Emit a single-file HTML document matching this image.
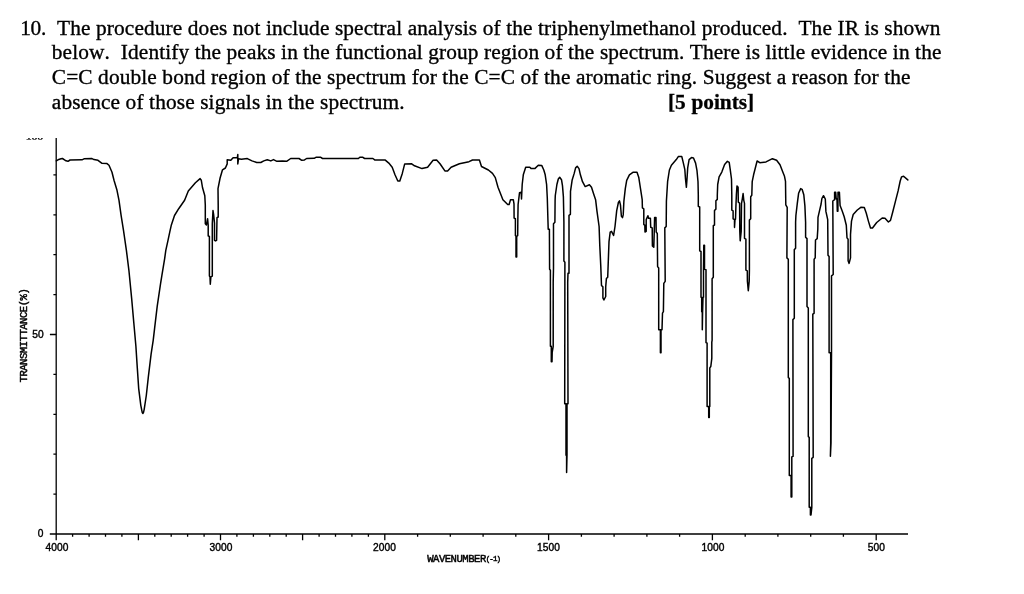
<!DOCTYPE html>
<html>
<head>
<meta charset="utf-8">
<title>IR spectrum question</title>
<style>
html,body{margin:0;padding:0;background:#fff;}
body{width:1024px;height:594px;position:relative;overflow:hidden;font-family:"Liberation Serif",serif;color:#000;}
.ln{position:absolute;white-space:pre;font-size:21.33px;line-height:24px;height:24px;word-spacing:0px;letter-spacing:0.125px;font-kerning:none;font-variant-ligatures:none;-webkit-text-stroke:0.35px #000;}
#l0{left:20.2px;top:16px;letter-spacing:-0.3px;}
#l1{left:57.1px;top:16px;letter-spacing:0.117px;}
#l2{left:51.8px;top:40px;letter-spacing:0.113px;transform:translateY(-0.4px);}
#l3{left:51.8px;top:65px;transform:translateY(-0.3px);}
#l4{left:51.8px;top:90px;transform:translateY(-0.2px);}
#pts{left:667.9px;top:90px;font-weight:bold;word-spacing:0.4px;letter-spacing:0;-webkit-text-stroke:0.3px #000;transform:translateY(-0.3px);}
#chart{position:absolute;left:0;top:0;}
</style>
</head>
<body>
<div class="ln" id="l0">10.</div>
<div class="ln" id="l1">The procedure does not include spectral analysis of the triphenylmethanol produced.  The IR is shown</div>
<div class="ln" id="l2">below.  Identify the peaks in the functional group region of the spectrum. There is little evidence in the</div>
<div class="ln" id="l3">C=C double bond region of the spectrum for the C=C of the aromatic ring. Suggest a reason for the</div>
<div class="ln" id="l4">absence of those signals in the spectrum.</div>
<div class="ln" id="pts">[5 points]</div>
<svg id="chart" width="1024" height="594" viewBox="0 0 1024 594">
<g fill="none" stroke="#000" stroke-width="1.3" stroke-linecap="butt">
<path d="M56.2 138.0V540.3M49.8 534.0H908.0" />
<path d="M53.4 494.1H56.2M53.4 454.2H56.2M53.4 414.3H56.2M53.4 374.4H56.2M49.9 334.5H56.2M53.4 294.6H56.2M53.4 254.7H56.2M53.4 214.8H56.2M53.4 174.9H56.2M72.6 534.0V536.8M89.1 534.0V536.8M105.5 534.0V536.8M121.9 534.0V536.8M138.4 534.0V540.3M154.8 534.0V536.8M171.2 534.0V536.8M187.6 534.0V536.8M204.1 534.0V536.8M220.5 534.0V540.3M236.9 534.0V536.8M253.4 534.0V536.8M269.8 534.0V536.8M286.2 534.0V536.8M302.6 534.0V540.3M319.1 534.0V536.8M335.5 534.0V536.8M351.9 534.0V536.8M368.4 534.0V536.8M384.8 534.0V540.3M417.6 534.0V536.8M450.3 534.0V536.8M483.1 534.0V536.8M515.8 534.0V536.8M548.6 534.0V540.3M581.4 534.0V536.8M614.1 534.0V536.8M646.9 534.0V536.8M679.6 534.0V536.8M712.4 534.0V540.3M745.2 534.0V536.8M777.9 534.0V536.8M810.7 534.0V536.8M843.4 534.0V536.8M876.2 534.0V540.3" />
</g>
<path id="curve" transform="translate(0 0.3)" fill="none" stroke="#000" stroke-width="1.5" stroke-linejoin="round" stroke-linecap="round" d="M56.3,160.5 L58,159.5 L61,158.5 L62.5,158.2 L64.5,159.5 L66,160.5 L68,161 L70,159.7 L82,159.5 L84,158.5 L92,158.3 L94,159.3 L98,160 L102,163 L107,163.3 L109,165 L112,172 L114,180 L117,190 L119,200 L121.1,215 L123.5,230 L126.4,250 L128.9,270 L131.6,297.6 L133.8,322.5 L135.9,346 L137.3,367.6 L138.7,388.3 L140.8,405 L142.2,412 L142.8,413.2 L143.4,412.5 L144.2,409 L146.3,395.2 L148.4,376 L151.1,353.8 L153.2,340 L154.6,328 L157.2,306 L160.6,283 L161.9,275 L164.7,258 L165.8,250 L168,240 L169.9,231 L171.2,225.3 L174.5,215.2 L178.7,208.4 L184.6,200 L188.3,190.7 L195.4,182.5 L200.1,178.3 L201.3,180 L202.5,187.2 L204.8,195.4 L205.3,205 L205.3,223.5 L206.4,224.6 L207.6,218.4 L208.2,225 L208.2,235.6 L209.4,236.2 L209.4,275.8 L210,276.5 L210.3,284 L210.9,276.5 L212.3,275.8 L212.3,223.5 L213,210.3 L213.6,214 L214.5,222.7 L214.5,240 L215.5,240.6 L216.6,240 L217,217.4 L218.2,216.7 L218.2,205 L218,188.3 L220.1,177.7 L222.5,169.5 L225.4,167.7 L227.2,163.6 L227.2,159.5 L230.8,160 L233.1,157.5 L235.5,157.5 L237.3,157.5 L237.8,154.2 L237.8,163.6 L238.5,158.5 L241.4,158.9 L247.3,158.3 L252,160.6 L256.7,162.2 L260.8,162.2 L263.8,160.6 L267.3,159.5 L270.8,160.6 L273.5,159.3 L276.9,161 L282.4,160.7 L286.6,161 L290.7,158.2 L299,158.2 L301.8,160 L304.5,159.6 L306.6,158.2 L314.2,158 L316.3,156.9 L320.4,156.9 L322.5,158.2 L358.4,158.2 L359.8,156.9 L362.5,156.9 L364.6,158.2 L372.9,158.2 L375,159.8 L385.3,159.8 L388.8,162.8 L392.2,166.9 L395,174.5 L397.8,180.7 L399.8,180.7 L402.3,173.1 L404.7,163.6 L411.7,163.5 L414.5,165.5 L422,168.3 L427.6,166.9 L433.1,160 L436.6,159.7 L440,163.5 L444.9,170.6 L447.6,170.6 L451.1,166.9 L459.4,163.5 L469,161.4 L472.5,159.7 L479.4,159.7 L481.5,166.2 L488.4,169.7 L492.5,173.1 L495.3,177.3 L498,187 L502.9,199.4 L507.7,204.2 L509.1,204.2 L510.5,199.4 L513.3,199.4 L514,203.5 L514.1,217.8 L515.4,218.4 L515.4,235.3 L516,236 L516,256.6 L516.7,256.6 L516.7,236 L517.7,235.3 L517.8,222 L518.1,204.2 L519.5,192.5 L521.2,192 L521.5,198.7 L522.2,184.2 L523.3,174.5 L525.7,166.9 L529.8,166.9 L531.2,168.3 L534.8,168.3 L538.3,164.9 L541.7,165.1 L543.8,169.7 L545.2,174.5 L546.6,184.2 L547.3,198 L548,222 L548.2,229 L549.4,229 L549.6,269 L550.4,270 L550.4,346 L551.3,346 L551.3,361.4 L552,361.4 L552.2,352 L553.2,346 L553.2,282 L553.5,267.7 L553.5,223.5 L554.9,222 L555.1,200 L555.3,195.2 L556.9,184.2 L558.3,178.7 L559.7,177 L561.5,179.4 L562.5,185.6 L563.4,196.6 L563.9,222 L563.9,260.8 L564.9,262 L564.7,403.5 L566,403.5 L566,455 L566.6,455 L566.6,472.2 L567,455 L567,403.5 L568,403.5 L567.7,282 L568,273 L569,273 L569,215 L570.4,214 L570.5,191.1 L572.1,180 L574.2,173.1 L575.6,167.6 L577.2,166 L579,168.3 L580.4,174.5 L582.5,181.4 L585.2,186.3 L589.4,184.5 L591.5,187 L593.5,193.2 L595.6,199.4 L597,211 L599.1,226.2 L599.8,245.6 L600.8,266.3 L601.5,285.2 L602.9,286.6 L602.9,297.6 L603.9,299.7 L605.7,296.2 L605.7,286.6 L606.4,278.3 L607.7,276.9 L608.2,263.5 L609,241.4 L610.2,231.8 L611.5,231 L613.6,235.2 L615,226.2 L616.7,210.4 L618.4,202.2 L619.5,200.5 L620.5,204.9 L621.4,216 L622.5,217.3 L623.2,214.6 L623.9,200.8 L625.3,188.3 L626.7,180 L629.4,174.5 L632.9,172 L637,172 L638.8,177.3 L640.5,188.3 L642.2,199.4 L642.4,207.6 L643.8,208.6 L643.8,224.2 L644.8,224.8 L645,231.7 L646.2,231 L646.2,219.3 L647.9,215.5 L648.6,218 L650.4,218 L650.7,226.9 L652.2,227.6 L652.4,245.6 L653.8,247 L654.2,233.1 L654.6,217.3 L656,217.3 L656.2,231.8 L657.3,233.1 L657.6,266.3 L658.7,267.7 L658.7,329.4 L660.4,329.4 L660.4,352.4 L661,352.4 L661,329.4 L662,329.4 L662.5,312.8 L663.4,311.4 L663.8,283.1 L665.2,281 L664.8,227.6 L666.2,226.2 L666.4,201 L667.6,181.4 L669.4,169.7 L671.4,164.9 L676.3,159.3 L678.3,156.3 L681.8,156.3 L683.2,162.1 L684.8,169 L685.5,178.7 L686.4,187 L687,178.7 L687.7,167.6 L689.1,159.3 L691.5,157.3 L693.5,157.7 L695.6,162.8 L697,170.4 L698,181.4 L698.3,195 L698.3,206 L699.7,206.7 L699.7,250.5 L701,251.2 L701,297 L701.7,297 L701.7,311.5 L702.3,311.5 L702.3,329.4 L702.6,311.5 L703,297 L703.5,297 L703.5,270 L703.8,245 L704.5,245 L704.5,269.1 L706,269.5 L706,342.2 L707.1,342.8 L707.1,406.3 L708.7,406.3 L708.7,417.3 L709.3,417.3 L709.3,406.3 L709.8,406.3 L709.8,367.6 L710.8,366.2 L711.8,358 L711.8,341.8 L712.1,340 L712.1,278.4 L713.3,277 L713.3,225.4 L714.5,224.7 L714.5,210.2 L715.9,208.8 L715.9,200.5 L717.3,199.1 L717.3,195 L717.7,184.2 L719.1,176.6 L721.8,171.8 L724.6,164.2 L727.4,161 L729.2,162.1 L730.1,168.3 L731.5,178.7 L731.8,195 L731.8,209.8 L733.1,210.5 L733.1,218.5 L734.5,219.2 L734.5,227.1 L735,219.5 L735.5,219 L735.9,206.3 L736.4,193.9 L737,185.6 L738.1,187 L738.3,201.9 L739.6,202.9 L739.8,231 L740.2,240.5 L741.2,231 L741.5,203.3 L742.4,198 L743.1,193.2 L743.8,200 L744.5,203 L744.5,238 L745.9,238.8 L745.9,269.8 L747.3,270.5 L747.4,281 L748.3,290.5 L749.2,281 L749.4,270 L749.4,219.8 L750.7,218.5 L750.7,196.4 L751.8,195 L752.2,181.4 L753.6,174.5 L755.7,166.2 L757.1,160.7 L759.8,162.4 L766,161.6 L772.4,158.4 L776.6,160 L780,164.5 L782.8,171.8 L784.5,176 L785.5,181 L785.8,204.5 L787.2,207 L786.9,257.6 L788.3,259 L788.3,377.3 L789.3,378 L789.3,475.2 L791.1,475.2 L791.1,496.6 L791.8,496.6 L791.8,456.6 L793.1,456 L792.9,319.3 L794.3,318 L794.3,249.3 L795.6,248 L795.6,222 L795.9,215.2 L797.3,203 L798.6,193 L800.7,188.3 L802.1,189 L803.8,194.5 L804.9,205.6 L805.6,222 L805.6,236.9 L807,238.3 L807,306.2 L808.3,307.6 L808.3,436.3 L809.2,437 L809.2,507 L810.4,507 L810.4,514.6 L811,514.6 L811.8,507 L811.8,458 L813.2,457 L812.8,313.8 L814.1,313 L814.1,259 L815.2,257.6 L815.5,239.7 L817.2,238.3 L817.8,229 L818,217 L819.6,210 L821.1,203.7 L821.9,198.2 L823.5,195.4 L825.3,198.7 L825.9,211.1 L827.7,219.4 L828,254.9 L829.1,256.2 L829.1,352.5 L830.7,352.5 L830.7,443.2 L830.4,455.9 L831,443 L831.5,352.5 L831.5,275.6 L833.2,274.2 L832.8,200.7 L834.6,199.4 L834.6,192 L835.7,192 L836.2,198.7 L837,198.7 L837.3,211 L837.9,211 L838,192 L839.4,192 L840.1,205.3 L842.2,210.8 L844.2,216.4 L846.3,224.9 L847,237.6 L848.1,239 L848.1,260.4 L849.1,263.1 L850.5,257.6 L850.5,234.1 L851.5,220.8 L853.2,214.2 L857.3,209.7 L860.8,207 L864.3,207.2 L866.3,213 L868.4,220.8 L870.5,227.7 L872.5,227.7 L876.7,222.2 L882.2,217.7 L885,218 L888.4,221.7 L890.5,220.1 L892.6,212.2 L895.3,201.6 L898.1,190.6 L900.2,180.7 L901.5,176.6 L903.6,175.9 L907.8,179.6" />
<g font-family="'Liberation Mono',monospace" font-size="10.6px" letter-spacing="-0.5" fill="#000" stroke="#000" stroke-width="0.45">
<text x="57" y="550.8" text-anchor="middle" font-family="'Liberation Sans',sans-serif" font-size="10.2px" letter-spacing="0.1" stroke-width="0.4">4000</text>
<text x="221" y="550.8" text-anchor="middle" font-family="'Liberation Sans',sans-serif" font-size="10.2px" letter-spacing="0.1" stroke-width="0.4">3000</text>
<text x="384.6" y="550.8" text-anchor="middle" font-family="'Liberation Sans',sans-serif" font-size="10.2px" letter-spacing="0.1" stroke-width="0.4">2000</text>
<text x="548.5" y="550.8" text-anchor="middle" font-family="'Liberation Sans',sans-serif" font-size="10.2px" letter-spacing="0.1" stroke-width="0.4">1500</text>
<text x="713" y="550.8" text-anchor="middle" font-family="'Liberation Sans',sans-serif" font-size="10.2px" letter-spacing="0.1" stroke-width="0.4">1000</text>
<text x="876.3" y="550.8" text-anchor="middle" font-family="'Liberation Sans',sans-serif" font-size="10.2px" letter-spacing="0.1" stroke-width="0.4">500</text>
<text x="427.2" y="562" text-anchor="start">WAVENUMBER<tspan font-size="7.5px" dy="-0.6" letter-spacing="-0.9">(-1)</tspan></text>
<text x="43.8" y="338" text-anchor="end" font-family="'Liberation Sans',sans-serif" font-size="10.2px" letter-spacing="0.1" stroke-width="0.4">50</text>
<clipPath id="c100"><rect x="20" y="137.9" width="30" height="1.5"/></clipPath>
<text x="43.4" y="139.6" text-anchor="end" clip-path="url(#c100)" font-family="Liberation Sans,sans-serif" font-size="9.8px" stroke-width="0.5" letter-spacing="0.35">100</text>
<text x="43.5" y="537.2" text-anchor="end" font-family="'Liberation Sans',sans-serif" font-size="10.2px" letter-spacing="0.1" stroke-width="0.4">0</text>
<text transform="translate(27.4 335.6) rotate(-90)" text-anchor="middle">TRANSMITTANCE(%)</text>
</g>
</svg>
</body>
</html>
